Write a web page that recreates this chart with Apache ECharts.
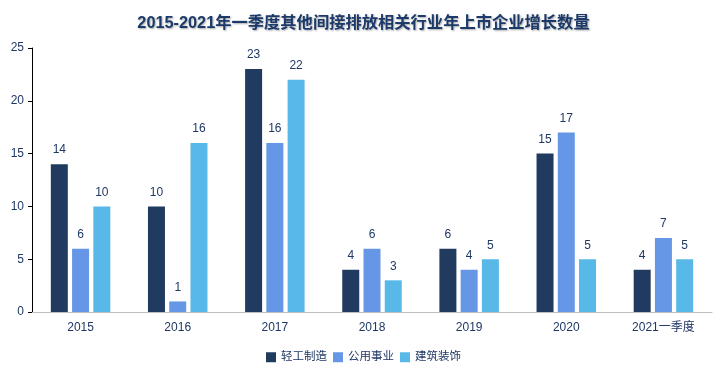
<!DOCTYPE html>
<html>
<head>
<meta charset="utf-8">
<script src="https://cdn.jsdelivr.net/npm/echarts@6/dist/echarts.min.js"></script>
<style>
  body { margin: 0; }
  #chart { width: 727px; height: 377px; }
</style>
</head>
<body>
<div id="chart"></div>
<script>
var categories = ['2015', '2016', '2017', '2018', '2019', '2020', '2021一季度'];
var lightIndustry = [14, 10, 23, 4, 6, 15, 4];
var utilities = [6, 1, 16, 6, 4, 17, 7];
var decoration = [10, 16, 22, 3, 5, 5, 5];
var seriesNames = ['轻工制造', '公用事业', '建筑装饰'];
var colors = ['#203b5f', '#6597e6', '#58b8e8'];
var navy = '#1f3864';
var font = 'Arial, "Liberation Sans", "Noto Sans CJK SC", sans-serif';

var chart = echarts.init(document.getElementById('chart'));

function bar(name, data, color) {
    return {
        name: name,
        type: 'bar',
        data: data,
        barWidth: 17,
        barGap: '25%',
        itemStyle: { color: color },
        label: {
            show: true,
            position: 'top',
            distance: 8,
            color: navy,
            fontSize: 12,
            fontFamily: font
        }
    };
}

chart.setOption({
    textStyle: { fontFamily: font },
    title: {
        text: '2015-2021年一季度其他间接排放相关行业年上市企业增长数量',
        left: 'center',
        top: 10,
        textStyle: {
            color: '#1b3a6a',
            fontSize: 16.3,
            fontWeight: 'bold',
            fontFamily: font,
            textShadowColor: 'rgba(0,0,0,0.35)',
            textShadowBlur: 2,
            textShadowOffsetX: 1,
            textShadowOffsetY: 1
        }
    },
    legend: {
        bottom: 9,
        itemWidth: 10,
        itemHeight: 10,
        itemGap: 6,
        icon: 'rect',
        textStyle: { color: navy, fontSize: 11.5, fontFamily: font }
    },
    grid: { left: 32, right: 15, top: 48, bottom: 65 },
    xAxis: {
        type: 'category',
        data: categories,
        axisLine: { lineStyle: { color: '#bfbfbf' } },
        axisTick: { show: false },
        axisLabel: { color: navy, fontSize: 12, margin: 10 }
    },
    yAxis: {
        type: 'value',
        min: 0,
        max: 25,
        interval: 5,
        axisLine: { show: true, lineStyle: { color: '#000' } },
        axisTick: { show: true, length: 4, lineStyle: { color: '#000' } },
        splitLine: { show: false },
        axisLabel: { color: navy, fontSize: 12, margin: 8 }
    },
    series: [
        bar(seriesNames[0], lightIndustry, colors[0]),
        bar(seriesNames[1], utilities, colors[1]),
        bar(seriesNames[2], decoration, colors[2])
    ]
});
</script>
</body>
</html>
